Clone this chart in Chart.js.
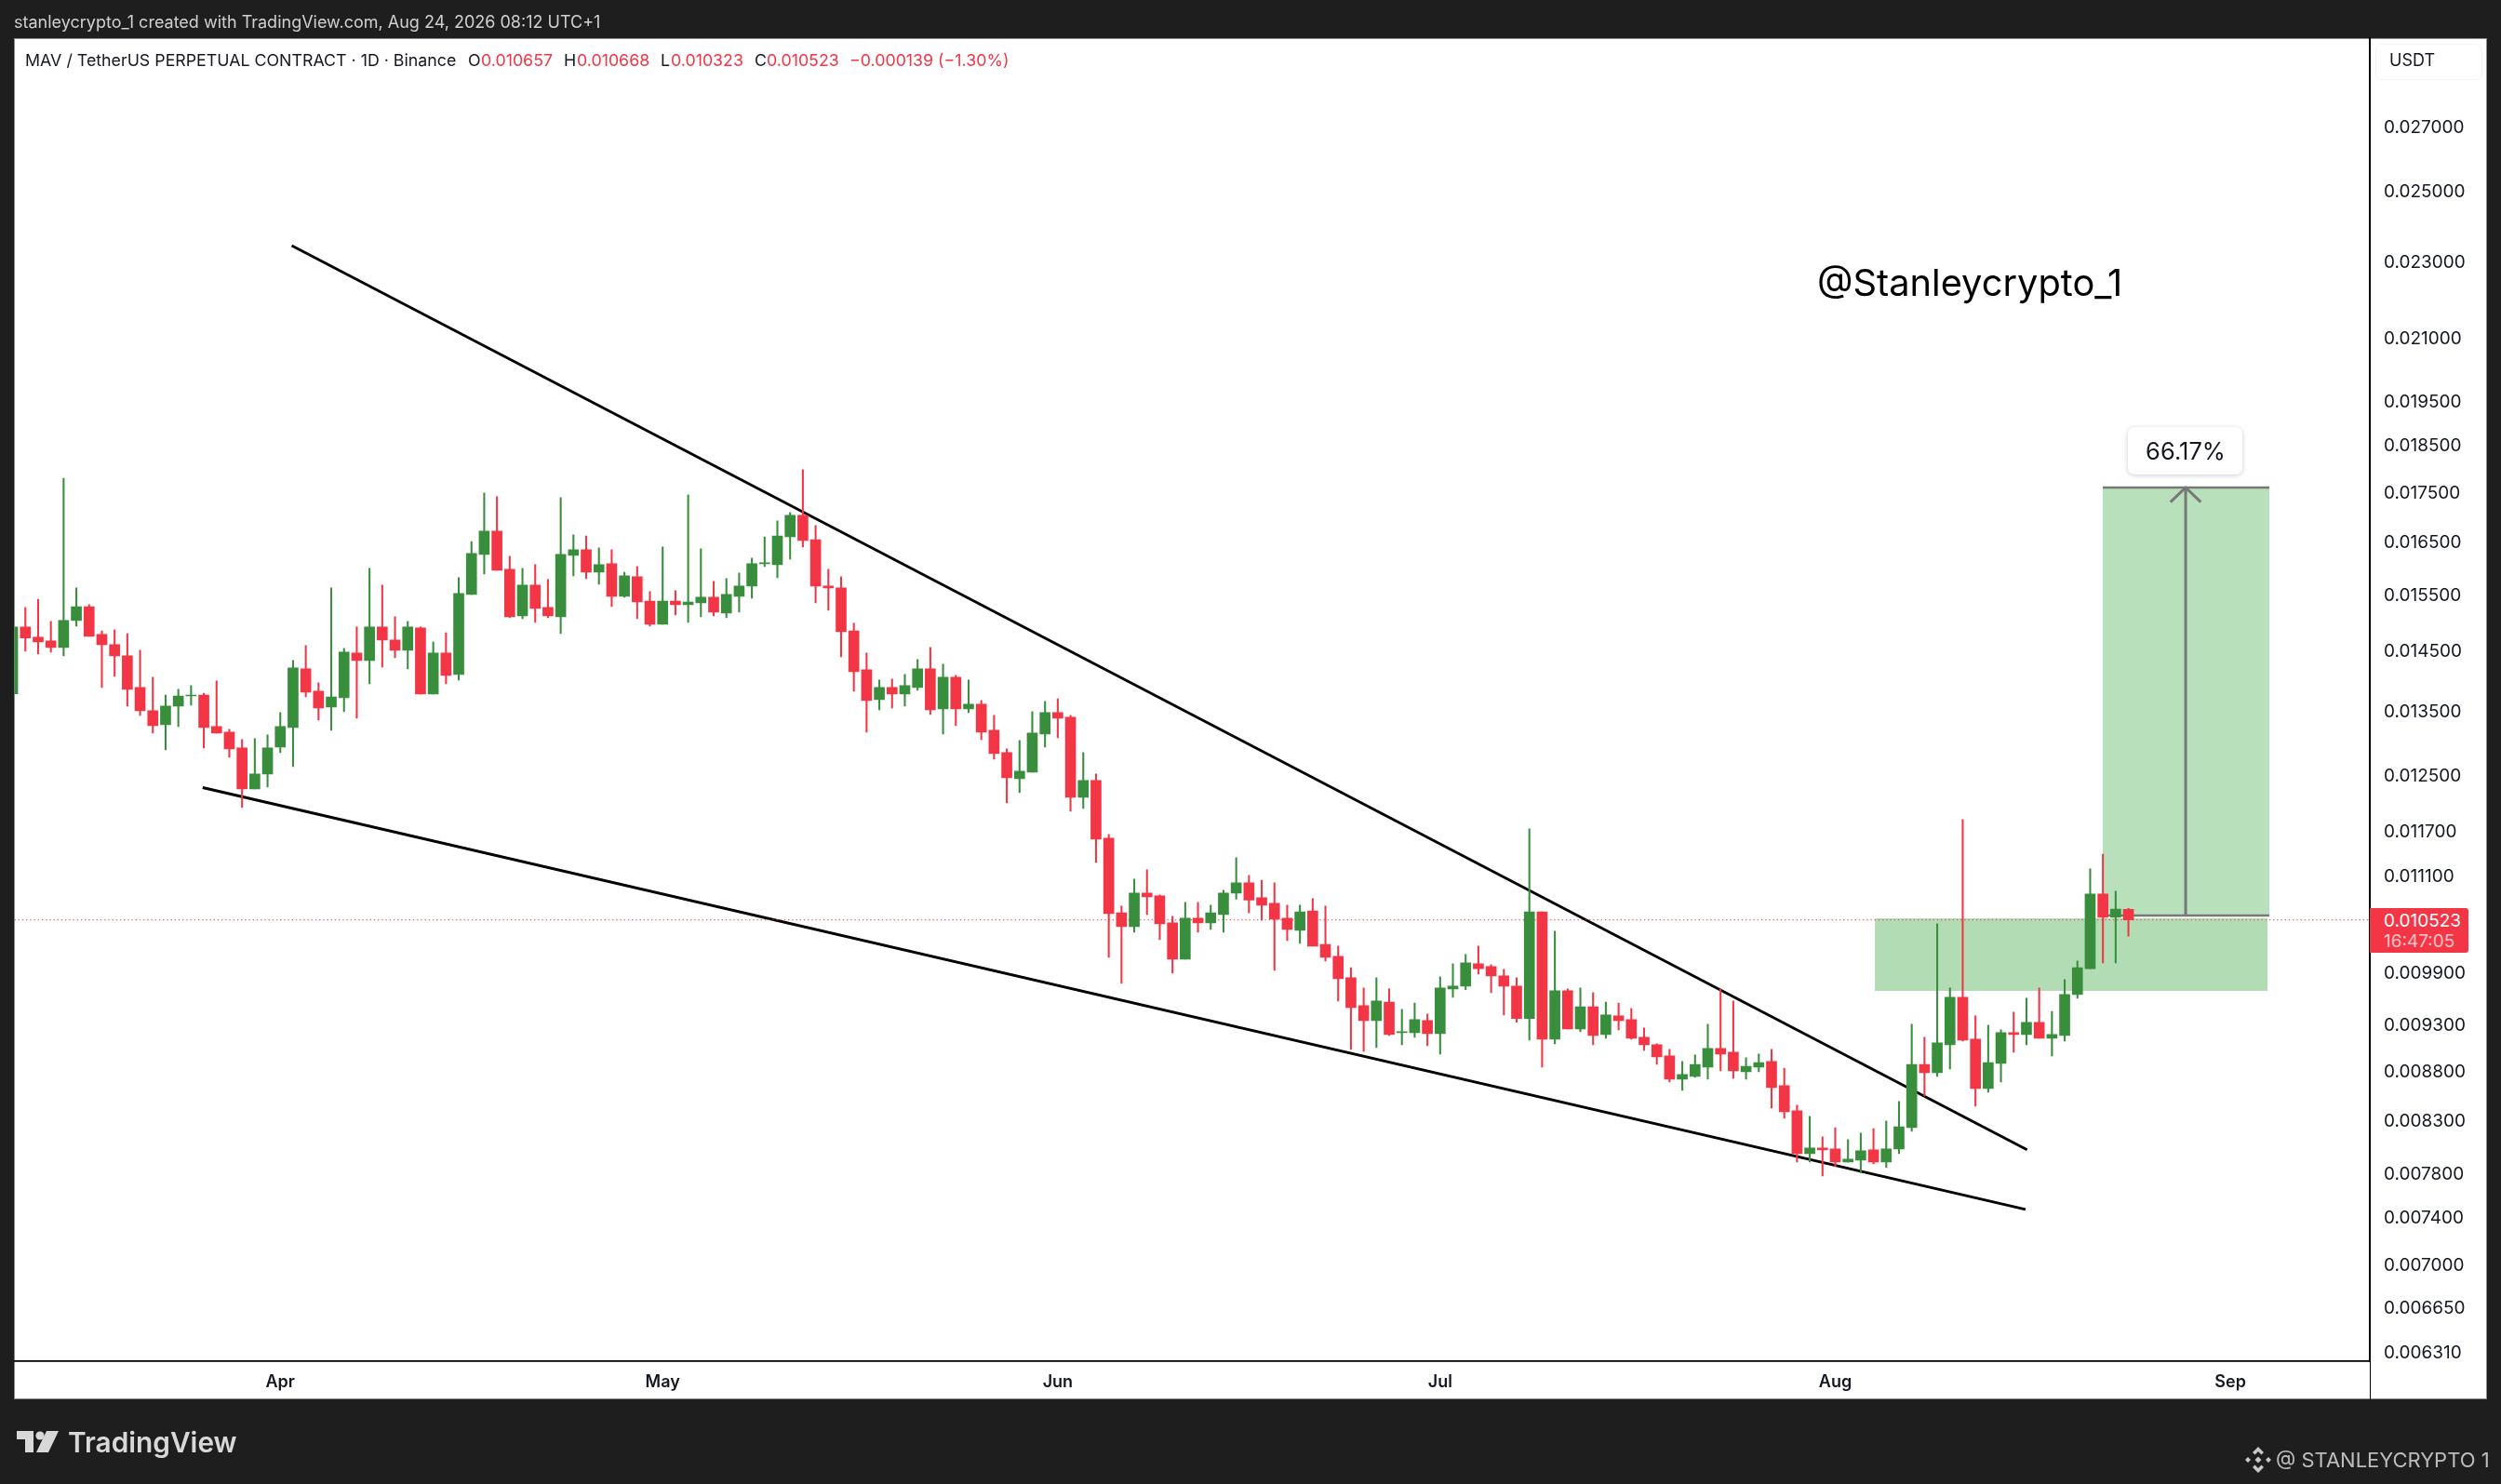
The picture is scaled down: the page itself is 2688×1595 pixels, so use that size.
<!DOCTYPE html>
<html>
<head>
<meta charset="utf-8">
<title>MAV / TetherUS</title>
<script src="https://cdn.jsdelivr.net/npm/chart.js@4"></script>
<style>
    html, body { margin: 0; padding: 0; background: #1e1e1e; width: 2688px; height: 1595px; overflow: hidden; }
    body { font-family: Inter, "Noto Sans", sans-serif; position: relative; }
    .txt { position: absolute; white-space: nowrap; line-height: 1; }
    #panel { position: absolute; left: 15px; top: 41px; width: 2656px; height: 1461px; background: #fff; border: 1px solid #8a8a8a; }
    #axisline { position: absolute; left: 2546.5px; top: 41px; width: 1.7px; height: 1463px; background: #000; }
    #chart { position: absolute; left: 0; top: 0; }
    #unit { position: absolute; left: 2553px; top: 47px; width: 113px; height: 37px; border: 1px solid #f2f3f6; border-radius: 7px; }
    #pricebox { position: absolute; left: 2547px; top: 976px; width: 106px; height: 48px; background: #f23645; border-radius: 0 3px 3px 0; }
    #pct { position: absolute; left: 2287px; top: 459px; width: 123px; height: 51px; background: #fff; border-radius: 7px; box-shadow: 0 1px 5px rgba(0,0,0,.2); }
</style>
</head>
<body>
<div id="panel"></div>
<canvas id="chart" width="2688" height="1595"></canvas>
<div id="axisline"></div>
<div id="unit"></div>
<div id="pricebox"></div>
<div id="pct"></div>

<!-- textes d'en-tete -->
<div class="txt" style="left:15px;top:15px;font-size:18px;color:#d0d0d0">stanleycrypto_1 created with TradingView.com, Aug 24, 2026 08:12 UTC+1</div>
<div class="txt" style="left:27px;top:56px;font-size:17.8px;color:#131722">MAV / TetherUS PERPETUAL CONTRACT · 1D · Binance</div>
<div class="txt" style="left:503px;top:56px;font-size:17.8px;color:#131722">O</div>
<div class="txt" style="left:517px;top:56px;font-size:17.8px;color:#f23645">0.010657</div>
<div class="txt" style="left:606px;top:56px;font-size:17.8px;color:#131722">H</div>
<div class="txt" style="left:620px;top:56px;font-size:17.8px;color:#f23645">0.010668</div>
<div class="txt" style="left:710px;top:56px;font-size:17.8px;color:#131722">L</div>
<div class="txt" style="left:721px;top:56px;font-size:17.8px;color:#f23645">0.010323</div>
<div class="txt" style="left:811px;top:56px;font-size:17.8px;color:#131722">C</div>
<div class="txt" style="left:824px;top:56px;font-size:17.8px;color:#f23645">0.010523</div>
<div class="txt" style="left:913px;top:56px;font-size:17.8px;color:#f23645">−0.000139 (−1.30%)</div>
<div class="txt" style="left:2568px;top:56px;font-size:18px;color:#131722">USDT</div>

<!-- etiquette du dernier prix -->
<div class="txt" style="left:2562px;top:980px;font-size:19px;color:#fff">0.010523</div>
<div class="txt" style="left:2562px;top:1002px;font-size:19px;color:#ffc2c7">16:47:05</div>

<div class="txt" style="left:2349px;top:472px;font-size:25.5px;color:#131722;transform:translateX(-50%)">66.17%</div>
<div class="txt" style="left:1953px;top:284px;font-size:39.8px;color:#000">@Stanleycrypto_1</div>

<!-- pied de page -->
<svg style="position:absolute;left:18px;top:1538px" width="46" height="24" viewBox="0 0 46 24">
    <path d="M0 0H18V23H9V9H0Z M32 0H45L34 23H21Z" fill="#d8d8d8"/><circle cx="25" cy="5" r="4.6" fill="#d8d8d8"/>
</svg>
<div class="txt" style="left:73px;top:1536px;font-size:29.8px;font-weight:600;color:#d8d8d8">TradingView</div>
<svg style="position:absolute;left:2413px;top:1555px" width="28" height="28" viewBox="-14 -14 28 28">
    <path d="M0 -14L6 -8L3.5 -5.5L0 -9L-3.5 -5.5L-6 -8Z M0 14L6 8L3.5 5.5L0 9L-3.5 5.5L-6 8Z M-14 0L-11 -3L-8 0L-11 3Z M14 0L11 -3L8 0L11 3Z M0 -3.5L3.5 0L0 3.5L-3.5 0Z" fill="#c8c8c8"/>
</svg>
<div class="txt" style="left:2446px;top:1558px;font-size:22px;color:#bdbdbd">@ STANLEYCRYPTO 1</div>

<script>
// ============================================
// MAV/USDT 1D : bougies, biseau et objectif
// ============================================

// Index de jour : 0 = 11 mars, 21 = 1er avril
const monthTicks = [21, 51, 82, 112, 143, 174];
const monthLabels = ['Apr', 'May', 'Jun', 'Jul', 'Aug', 'Sep'];

const priceTicks = [0.027, 0.025, 0.023, 0.021, 0.0195, 0.0185, 0.0175, 0.0165, 0.0155, 0.0145,
    0.0135, 0.0125, 0.0117, 0.0111, 0.0099, 0.0093, 0.0088, 0.0083, 0.0078, 0.0074, 0.007, 0.00665, 0.00631];

const opens = [
    0.013760,0.014895,0.014715,0.014651,0.014539,0.015011,0.015260,0.014763,0.014587,0.014395,
    0.013864,0.013487,0.013264,0.013561,0.013725,0.013740,0.013235,0.013148,0.012904,0.012291,
    0.012512,0.012918,0.013220,0.014173,0.013802,0.013547,0.013695,0.014443,0.014315,0.014895,
    0.014667,0.014491,0.014878,0.013755,0.014443,0.014080,0.015481,0.016235,0.016688,0.015949,
    0.015094,0.015654,0.015244,0.015078,0.016217,0.016324,0.015896,0.016056,0.015447,0.015810,
    0.015361,0.014945,0.015361,0.015294,0.015327,0.015430,0.015144,0.015447,0.015637,0.016056,
    0.016038,0.016577,0.017004,0.016521,0.015637,0.015602,0.014828,0.014158,0.013666,0.013864,
    0.013755,0.013864,0.014173,0.013517,0.014034,0.013517,0.013591,0.013177,0.012832,0.012443,
    0.012539,0.013120,0.013457,0.013383,0.012171,0.012415,0.011594,0.010612,0.010440,0.010863,
    0.010828,0.010486,0.010045,0.010544,0.010486,0.010590,0.010863,0.010995,0.010804,0.010732,
    0.010544,0.010394,0.010636,0.010222,0.010078,0.009825,0.009504,0.009339,0.009546,0.009205,
    0.009205,0.009339,0.009195,0.009696,0.009728,0.009989,0.009956,0.009846,0.009728,0.009360,
    0.010624,0.009135,0.009675,0.009246,0.009493,0.009185,0.009391,0.009349,0.009154,0.009075,
    0.008955,0.008711,0.008740,0.008836,0.009035,0.008995,0.008788,0.008836,0.008895,0.008644,
    0.008390,0.007975,0.008028,0.008019,0.007896,0.007913,0.008010,0.007896,0.008019,0.008224,
    0.008865,0.008778,0.009075,0.009600,0.009135,0.008616,0.008875,0.009205,0.009185,0.009319,
    0.009144,0.009174,0.009632,0.009932,0.010851,0.010555,0.010657
];

const highs = [
    0.014895,0.015244,0.015395,0.014994,0.017770,0.015602,0.015294,0.014828,0.014845,0.014779,
    0.014491,0.014034,0.013740,0.013833,0.013895,0.013771,0.013972,0.013192,0.013033,0.013048,
    0.013105,0.013457,0.014314,0.014571,0.013941,0.015602,0.014523,0.014895,0.015967,0.015654,
    0.015078,0.014994,0.014895,0.014635,0.014795,0.015793,0.016485,0.017461,0.017384,0.016199,
    0.015967,0.016038,0.015758,0.017365,0.016614,0.016595,0.016360,0.016324,0.015896,0.016003,
    0.015533,0.016378,0.015551,0.017423,0.016342,0.015723,0.015775,0.015879,0.016163,0.016577,
    0.016892,0.017060,0.017950,0.016800,0.015949,0.015810,0.014961,0.014443,0.013987,0.014003,
    0.014080,0.014331,0.014539,0.014251,0.014065,0.013987,0.013651,0.013413,0.012890,0.013019,
    0.013472,0.013636,0.013680,0.013413,0.012832,0.012512,0.011646,0.010696,0.011044,0.011167,
    0.010840,0.010567,0.010744,0.010744,0.010708,0.010899,0.011328,0.011093,0.011031,0.010995,
    0.010708,0.010708,0.010793,0.010696,0.010200,0.009942,0.009707,0.009825,0.009696,0.009463,
    0.009535,0.009411,0.009835,0.009989,0.010100,0.010200,0.009978,0.009923,0.009825,0.011723,
    0.010624,0.010383,0.009696,0.009707,0.009653,0.009546,0.009535,0.009473,0.009257,0.009085,
    0.009025,0.008895,0.008965,0.009298,0.009696,0.009557,0.008935,0.008975,0.009025,0.008826,
    0.008446,0.008335,0.008135,0.008224,0.008108,0.008171,0.008215,0.008289,0.008483,0.009298,
    0.009154,0.010475,0.009707,0.011852,0.009391,0.009288,0.009236,0.009432,0.009589,0.009707,
    0.009439,0.009804,0.010022,0.011180,0.011377,0.010887,0.010668
];

const lows = [
    0.013760,0.014475,0.014427,0.014459,0.014395,0.014911,0.014731,0.013864,0.014049,0.013561,
    0.013413,0.013134,0.012875,0.013235,0.013576,0.012904,0.013134,0.012761,0.012025,0.012291,
    0.012318,0.012832,0.012622,0.013710,0.013338,0.013177,0.013472,0.013368,0.013926,0.014204,
    0.014362,0.014173,0.013755,0.013755,0.013926,0.013987,0.015481,0.015862,0.015931,0.015061,
    0.015044,0.014978,0.015061,0.014779,0.015827,0.015775,0.015672,0.015260,0.015430,0.015044,
    0.014911,0.014945,0.015111,0.014978,0.015078,0.015094,0.015061,0.015161,0.015412,0.016003,
    0.015793,0.016146,0.016378,0.015327,0.015194,0.014378,0.013802,0.013148,0.013502,0.013532,
    0.013561,0.013817,0.013428,0.013120,0.013249,0.013457,0.013033,0.012733,0.012091,0.012238,
    0.012539,0.012918,0.013062,0.011971,0.012011,0.011266,0.010067,0.009760,0.010371,0.010590,
    0.010279,0.009878,0.010045,0.010371,0.010405,0.010371,0.010784,0.010612,0.010521,0.009911,
    0.010268,0.010234,0.010200,0.010022,0.009557,0.009025,0.009005,0.009045,0.009174,0.009075,
    0.009154,0.009065,0.008975,0.009600,0.009686,0.009867,0.009653,0.009401,0.009319,0.009125,
    0.008836,0.009085,0.009246,0.009216,0.009075,0.009144,0.009236,0.009135,0.009015,0.008865,
    0.008683,0.008596,0.008731,0.008711,0.008798,0.008721,0.008711,0.008788,0.008418,0.008317,
    0.007896,0.007896,0.007767,0.007853,0.007896,0.007793,0.007879,0.007844,0.007975,0.008188,
    0.008539,0.008740,0.008817,0.009115,0.008437,0.008577,0.008683,0.008995,0.009075,0.009144,
    0.008955,0.009115,0.009589,0.009932,0.010000,0.010000,0.010323
];

const closes = [
    0.014895,0.014704,0.014635,0.014539,0.015011,0.015260,0.014731,0.014587,0.014395,0.013833,
    0.013487,0.013249,0.013561,0.013725,0.013740,0.013220,0.013134,0.012890,0.012291,0.012512,
    0.012904,0.013235,0.014189,0.013786,0.013532,0.013710,0.014459,0.014315,0.014895,0.014667,
    0.014491,0.014895,0.013755,0.014443,0.014065,0.015499,0.016253,0.016688,0.015931,0.015078,
    0.015654,0.015227,0.015094,0.016235,0.016324,0.015896,0.016038,0.015447,0.015827,0.015343,
    0.014945,0.015361,0.015294,0.015343,0.015430,0.015161,0.015481,0.015637,0.016056,0.016074,
    0.016595,0.017004,0.016503,0.015637,0.015602,0.014811,0.014127,0.013651,0.013864,0.013755,
    0.013895,0.014173,0.013502,0.014034,0.013517,0.013591,0.013148,0.012818,0.012456,0.012553,
    0.013134,0.013457,0.013368,0.012171,0.012415,0.011581,0.010601,0.010440,0.010863,0.010816,
    0.010475,0.010045,0.010544,0.010486,0.010612,0.010863,0.010995,0.010773,0.010708,0.010532,
    0.010405,0.010624,0.010200,0.010067,0.009814,0.009483,0.009339,0.009557,0.009185,0.009216,
    0.009349,0.009195,0.009707,0.009728,0.010000,0.009932,0.009846,0.009728,0.009360,0.010624,
    0.009135,0.009675,0.009246,0.009493,0.009174,0.009401,0.009339,0.009144,0.009075,0.008945,
    0.008711,0.008759,0.008865,0.009035,0.008975,0.008798,0.008845,0.008885,0.008625,0.008381,
    0.007975,0.008028,0.008010,0.007896,0.007922,0.008001,0.007896,0.008019,0.008233,0.008865,
    0.008778,0.009095,0.009600,0.009125,0.008616,0.008885,0.009205,0.009185,0.009319,0.009144,
    0.009185,0.009632,0.009942,0.010851,0.010555,0.010659,0.010523
];

const lastPrice = 0.010523;

// Bornes des axes
const dayMin = 0.14, dayMax = 184.94;
const priceMin = 0.006234, priceMax = 0.029952;

// Lignes du biseau
const upperTrendDays = [21.9, 158.05];
const upperTrendPrices = [0.023417, 0.008011];
const lowerTrendDays = [14.91, 157.93];
const lowerTrendPrices = [0.012310, 0.007464];

// Zone de retest et zone d'objectif
const zoneDays = [146.11, 176.91];
const zonePrices = [0.010543, 0.009673];
const targetDays = [163.99, 177.06];
const targetPrices = [0.010577, 0.017575];
const arrowDay = 170.49;
const arrowHeadDays = [169.30, 170.49, 171.68];
const arrowHeadPrices = [0.017275, 0.017575, 0.017275];

const UP = '#388e3c', DOWN = '#f23645', GREY = '#787878';

const days = closes.map((c, i) => i);
const candleColor = ctx => closes[ctx.dataIndex] >= opens[ctx.dataIndex] ? UP : DOWN;

function lineOf(xs, ys, color, width, order, dash) {
    return {
        type: 'line',
        data: xs.map((x, i) => ({ x: x, y: ys[i] })),
        borderColor: color,
        borderWidth: width,
        borderDash: dash || [],
        pointRadius: 0,
        fill: false,
        tension: 0,
        order: order
    };
}

// Rectangles sous les bougies, places avec les echelles du graphique
const zonesPlugin = {
    id: 'zones',
    beforeDatasetsDraw(chart) {
        const { ctx, scales: { x, y } } = chart;
        const box = (ds, ps, color) => {
            const x0 = x.getPixelForValue(ds[0]), x1 = x.getPixelForValue(ds[1]);
            const y0 = y.getPixelForValue(ps[0]), y1 = y.getPixelForValue(ps[1]);
            ctx.fillStyle = color;
            ctx.fillRect(x0, Math.min(y0, y1), x1 - x0, Math.abs(y1 - y0));
        };
        box(zoneDays, zonePrices, '#b2ddb4');
        box(targetDays, targetPrices, '#b8e0bb');
    }
};

new Chart(document.getElementById('chart').getContext('2d'), {
    type: 'bar',
    data: {
        datasets: [
            {
                label: 'Corps',
                data: days.map(i => ({ x: i, y: [opens[i], closes[i]] })),
                backgroundColor: candleColor,
                barThickness: 11,
                grouped: false,
                order: 0
            },
            {
                label: 'Meches',
                data: days.map(i => ({ x: i, y: [lows[i], highs[i]] })),
                backgroundColor: candleColor,
                barThickness: 1.4,
                grouped: false,
                order: 1
            },
            lineOf([dayMin, dayMax], [lastPrice, lastPrice], 'rgba(242,54,69,0.8)', 1.3, 2, [1.3, 2.9]),
            lineOf(upperTrendDays, upperTrendPrices, '#000', 3, 3),
            lineOf(lowerTrendDays, lowerTrendPrices, '#000', 3, 3),
            lineOf(targetDays, [targetPrices[0], targetPrices[0]], GREY, 2.5, 2),
            lineOf(targetDays, [targetPrices[1], targetPrices[1]], GREY, 2.5, 2),
            lineOf([arrowDay, arrowDay], targetPrices, GREY, 3, 2),
            lineOf(arrowHeadDays, arrowHeadPrices, GREY, 3, 2)
        ]
    },
    options: {
        responsive: false,
        devicePixelRatio: 1,
        animation: false,
        layout: { padding: { left: 15.5, top: 41, right: 15.3, bottom: 91 } },
        plugins: { legend: { display: false }, tooltip: { enabled: false } },
        scales: {
            x: {
                type: 'linear',
                min: dayMin,
                max: dayMax,
                offset: false,
                grid: { display: false, drawTicks: false },
                border: { color: '#000', width: 1.7 },
                afterBuildTicks: s => { s.ticks = monthTicks.map(v => ({ value: v })); },
                afterFit: s => { s.height = 41; s.paddingLeft = s.paddingRight = 0; },
                ticks: {
                    autoSkip: false,
                    maxRotation: 0,
                    padding: 12,
                    color: '#131722',
                    font: { family: 'Inter', size: 18, weight: '600' },
                    callback: v => monthLabels[monthTicks.indexOf(v)]
                }
            },
            y: {
                type: 'logarithmic',
                position: 'right',
                min: priceMin,
                max: priceMax,
                bounds: 'data',
                beginAtZero: false,
                grid: { display: false, drawTicks: false },
                border: { color: '#000', width: 1.7 },
                afterBuildTicks: s => { s.ticks = priceTicks.map(v => ({ value: v })); },
                afterFit: s => { s.width = 125.7; s.paddingTop = s.paddingBottom = 0; },
                ticks: {
                    autoSkip: false,
                    crossAlign: 'near',
                    padding: 15,
                    labelOffset: 2,
                    color: '#131722',
                    font: { family: 'Inter', size: 19 },
                    callback: v => v.toFixed(6)
                }
            }
        }
    },
    plugins: [zonesPlugin]
});
</script>
</body>
</html>
